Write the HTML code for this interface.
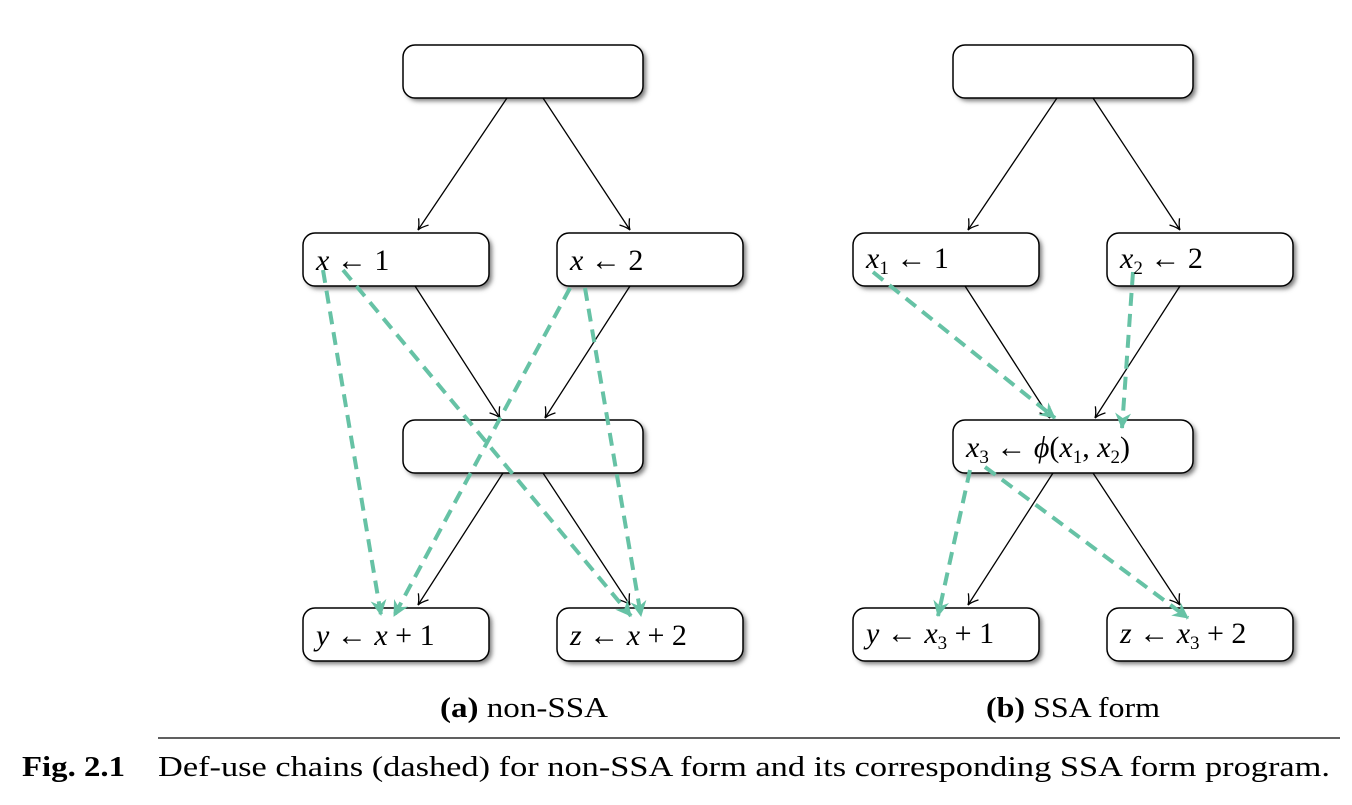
<!DOCTYPE html>
<html><head><meta charset="utf-8"><style>
body{margin:0;background:#fff;width:1352px;height:800px;overflow:hidden}
svg text{font-family:"Liberation Serif",serif}
.m{font-size:30px;font-style:italic}
.n{font-style:normal}
</style></head><body>
<svg width="1352" height="800" viewBox="0 0 1352 800" xmlns="http://www.w3.org/2000/svg">
<defs>
<filter id="sh" x="-10%" y="-20%" width="130%" height="160%"><feGaussianBlur stdDeviation="2.5"/></filter>
<marker id="ab" markerWidth="14" markerHeight="14" refX="12" refY="7" orient="auto" markerUnits="userSpaceOnUse"><path d="M2,1 Q8,6 12,7 Q8,8 2,13" fill="none" stroke="#000" stroke-width="1.3"/></marker>
<marker id="ag" markerWidth="20" markerHeight="20" refX="16" refY="10" orient="auto" markerUnits="userSpaceOnUse"><path d="M1,2 L17,10 L1,18 L6,10 Z" fill="#66c2a5"/></marker>
</defs>
<g id="boxes">
<g fill="#777" filter="url(#sh)">
<rect x="406" y="48" width="240" height="53" rx="12"/><rect x="306" y="236" width="186" height="53" rx="12"/><rect x="560" y="236" width="186" height="53" rx="12"/><rect x="406" y="423" width="240" height="53" rx="12"/><rect x="306" y="611" width="186" height="53" rx="12"/><rect x="560" y="611" width="186" height="53" rx="12"/>
<rect x="956" y="48" width="240" height="53" rx="12"/><rect x="856" y="236" width="186" height="53" rx="12"/><rect x="1110" y="236" width="186" height="53" rx="12"/><rect x="956" y="423" width="240" height="53" rx="12"/><rect x="856" y="611" width="186" height="53" rx="12"/><rect x="1110" y="611" width="186" height="53" rx="12"/>
</g>
<g fill="#fff" stroke="#000" stroke-width="1.5">
<rect x="403" y="45" width="240" height="53" rx="12"/><rect x="303" y="233" width="186" height="53" rx="12"/><rect x="557" y="233" width="186" height="53" rx="12"/><rect x="403" y="420" width="240" height="53" rx="12"/><rect x="303" y="608" width="186" height="53" rx="12"/><rect x="557" y="608" width="186" height="53" rx="12"/>
<rect x="953" y="45" width="240" height="53" rx="12"/><rect x="853" y="233" width="186" height="53" rx="12"/><rect x="1107" y="233" width="186" height="53" rx="12"/><rect x="953" y="420" width="240" height="53" rx="12"/><rect x="853" y="608" width="186" height="53" rx="12"/><rect x="1107" y="608" width="186" height="53" rx="12"/>
</g></g>
<g stroke="#000" stroke-width="1.3" marker-end="url(#ab)">
<line x1="507" y1="98" x2="418" y2="230"/><line x1="543" y1="98" x2="630" y2="230"/>
<line x1="415" y1="286" x2="500" y2="418"/><line x1="630" y1="286" x2="545" y2="418"/>
<line x1="503" y1="473" x2="418" y2="605"/><line x1="543" y1="473" x2="630" y2="605"/>
<line x1="1057" y1="98" x2="968" y2="230"/><line x1="1093" y1="98" x2="1180" y2="230"/>
<line x1="965" y1="286" x2="1050" y2="418"/><line x1="1180" y1="286" x2="1095" y2="418"/>
<line x1="1053" y1="473" x2="968" y2="605"/><line x1="1093" y1="473" x2="1180" y2="605"/>
</g>
<g stroke="#66c2a5" stroke-width="4" stroke-dasharray="13,8" fill="none" marker-end="url(#ag)">
<line x1="323" y1="270" x2="381" y2="615"/><line x1="343" y1="270" x2="631" y2="616"/>
<line x1="570" y1="288" x2="394" y2="616"/><line x1="585" y1="288" x2="641" y2="616"/>
<line x1="873" y1="272" x2="1055" y2="418"/><line x1="1133" y1="272" x2="1122" y2="428"/>
<line x1="970" y1="470" x2="938" y2="616"/><line x1="985" y1="467" x2="1188" y2="618"/>
</g>
<g class="m">
<text x="316" y="270">x <tspan class="n">← 1</tspan></text>
<text x="570" y="270">x <tspan class="n">← 2</tspan></text>
<text x="316" y="645">y <tspan class="n">← </tspan>x <tspan class="n">+ 1</tspan></text>
<text x="570" y="645">z <tspan class="n">← </tspan>x <tspan class="n">+ 2</tspan></text>
<text x="866" y="268">x<tspan font-size="19" dy="6" class="n">1</tspan><tspan class="n" dy="-6"> ← 1</tspan></text>
<text x="1120" y="268">x<tspan font-size="19" dy="6" class="n">2</tspan><tspan class="n" dy="-6"> ← 2</tspan></text>
<text x="966" y="457">x<tspan font-size="19" dy="6" class="n">3</tspan><tspan class="n" dy="-6"> ← </tspan>ϕ<tspan class="n">(</tspan>x<tspan font-size="19" dy="6" class="n">1</tspan><tspan class="n" dy="-6">, </tspan>x<tspan font-size="19" dy="6" class="n">2</tspan><tspan class="n" dy="-6">)</tspan></text>
<text x="866" y="643">y <tspan class="n">← </tspan>x<tspan font-size="19" dy="6" class="n">3</tspan><tspan class="n" dy="-6"> + 1</tspan></text>
<text x="1120" y="643">z <tspan class="n">← </tspan>x<tspan font-size="19" dy="6" class="n">3</tspan><tspan class="n" dy="-6"> + 2</tspan></text>
</g>
<text x="440" y="717" font-size="28" textLength="168" lengthAdjust="spacingAndGlyphs"><tspan font-weight="bold">(a)</tspan> non-SSA</text>
<text x="986" y="717" font-size="28" textLength="174" lengthAdjust="spacingAndGlyphs"><tspan font-weight="bold">(b)</tspan> SSA form</text>
<line x1="158" y1="738" x2="1340" y2="738" stroke="#000" stroke-width="1.3"/>
<text x="22" y="776" font-size="28" font-weight="bold" textLength="103" lengthAdjust="spacingAndGlyphs">Fig. 2.1</text>
<text x="158" y="776" font-size="28" textLength="1172" lengthAdjust="spacingAndGlyphs">Def-use chains (dashed) for non-SSA form and its corresponding SSA form program.</text>
</svg>
</body></html>
